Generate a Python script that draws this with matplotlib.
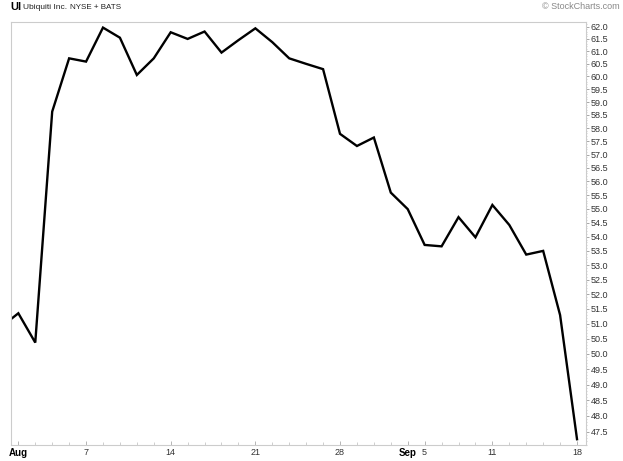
import matplotlib
matplotlib.use("Agg")
import matplotlib.pyplot as plt
import matplotlib.ticker as mticker
import numpy as np

# UI daily closes, Jul 31 - Sep 18
dates = ["Jul 31", "Aug 1", "Aug 2", "Aug 3", "Aug 4",
         "Aug 7", "Aug 8", "Aug 9", "Aug 10", "Aug 11",
         "Aug 14", "Aug 15", "Aug 16", "Aug 17", "Aug 18",
         "Aug 21", "Aug 22", "Aug 23", "Aug 24", "Aug 25",
         "Aug 28", "Aug 29", "Aug 30", "Aug 31", "Sep 1",
         "Sep 5", "Sep 6", "Sep 7", "Sep 8",
         "Sep 11", "Sep 12", "Sep 13", "Sep 14", "Sep 15",
         "Sep 18"]
closes = [50.90, 51.35, 50.37, 58.63, 60.72,
          60.59, 61.96, 61.55, 60.06, 60.72,
          61.77, 61.50, 61.80, 60.95, 61.45,
          61.93, 61.37, 60.72, 60.50, 60.29,
          57.78, 57.32, 57.64, 55.59, 54.99,
          53.71, 53.66, 54.70, 53.98,
          55.14, 54.42, 53.37, 53.50, 51.29,
          47.27]

x_labels = {"Aug 1": "Aug", "Aug 7": "7", "Aug 14": "14", "Aug 21": "21",
            "Aug 28": "28", "Sep 1": "Sep", "Sep 5": "5", "Sep 11": "11",
            "Sep 18": "18"}
y_ticks = np.arange(47.5, 62.01, 0.5)

plt.rcParams['font.family'] = ['Liberation Sans', 'DejaVu Sans']

fig = plt.figure(figsize=(6.23, 4.61), dpi=100)
ax = fig.add_axes([0.0172, 0.0347, 0.9234, 0.9182])

x = np.arange(len(dates))
ax.plot(x, closes, color='black', linewidth=1.7, solid_joinstyle='miter')

ax.set_yscale('log')
ax.set_xlim(0.55, 34.53)
ax.set_ylim(47.09, 62.20)

ax.yaxis.tick_right()
ax.yaxis.set_major_locator(mticker.FixedLocator(y_ticks))
ax.yaxis.set_major_formatter(mticker.FixedFormatter([f"{v:.1f}" for v in y_ticks]))
ax.yaxis.set_minor_locator(mticker.FixedLocator(np.arange(47.1, 62.2, 0.1)))
ax.yaxis.set_minor_formatter(mticker.NullFormatter())
ax.tick_params(axis='y', which='major', length=2, width=0.6, colors='#999999',
               labelcolor='#333333', labelsize=6.5, pad=1.5)
ax.tick_params(axis='y', which='minor', length=1, width=0.5, colors='#bbbbbb')

pos = [dates.index(d) for d in x_labels]
ax.set_xticks(pos)
ax.set_xticklabels(list(x_labels.values()))
ax.set_xticks(x[1:], minor=True)
ax.tick_params(axis='x', which='major', direction='in', length=3, width=0.6,
               colors='#aaaaaa', labelcolor='#333333', labelsize=6.5, pad=2)
ax.tick_params(axis='x', which='minor', direction='in', length=2, width=0.5,
               colors='#bbbbbb')
for lbl in ax.get_xticklabels():
    if lbl.get_text() in ("Aug", "Sep"):
        lbl.set_fontweight('bold')
        lbl.set_color('black')
        lbl.set_fontsize(7)

for s in ax.spines.values():
    s.set_color('#cccccc')
    s.set_linewidth(0.8)

fig.text(0.016, 0.984, "UI", fontsize=8, fontweight='bold', va='center')
fig.text(0.037, 0.984, "Ubiquiti Inc.", fontsize=6, va='center', color='#222222')
fig.text(0.112, 0.984, "NYSE + BATS", fontsize=5.8, va='center', color='#222222')
fig.text(0.995, 0.986, "\u00a9 StockCharts.com", fontsize=6.5, va='center',
         ha='right', color='#888888')

fig.savefig("out.png", dpi=100)
